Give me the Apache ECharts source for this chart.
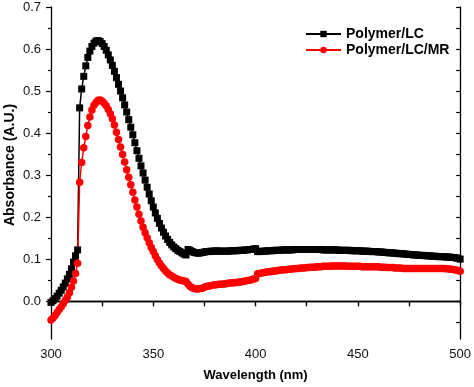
<!DOCTYPE html>
<html>
<head>
<meta charset="utf-8">
<script src="https://cdn.jsdelivr.net/npm/echarts@6/dist/echarts.min.js"></script>
<style>html,body{margin:0;padding:0;background:#fff;}#c{width:474px;height:387px;}</style>
</head>
<body>
<div id="c"></div>
<script>
const wavelength = [
300,301,302,303,304,305,306,307,308,309,310,311,312,313,314,315,316,317,318,319,
320,321,322,323,324,325,326,327,328,329,330,331,332,333,334,335,336,337,338,339,
340,341,342,343,344,345,346,347,348,349,350,351,352,353,354,355,356,357,358,359,
360,361,362,363,364,365,366,367,368,369,370,371,372,373,374,375,376,377,378,379,
380,381,382,383,384,385,386,387,388,389,390,391,392,393,394,395,396,397,398,399,
400,401,402,403,404,405,406,407,408,409,410,411,412,413,414,415,416,417,418,419,
420,421,422,423,424,425,426,427,428,429,430,431,432,433,434,435,436,437,438,439,
440,441,442,443,444,445,446,447,448,449,450,451,452,453,454,455,456,457,458,459,
460,461,462,463,464,465,466,467,468,469,470,471,472,473,474,475,476,477,478,479,
480,481,482,483,484,485,486,487,488,489,490,491,492,493,494,495,496,497,498,499,
500];

const polymerLC = [
-0.003,0.001,0.006,0.012,0.019,0.026,0.034,0.043,0.053,0.064,
0.077,0.093,0.108,0.122,0.46,0.505,0.535,0.56,0.58,0.595,
0.606,0.614,0.619,0.62,0.618,0.613,0.606,0.597,0.586,0.574,
0.561,0.547,0.532,0.516,0.5,0.484,0.467,0.45,0.432,0.414,
0.396,0.377,0.358,0.34,0.322,0.305,0.288,0.271,0.255,0.239,
0.224,0.21,0.197,0.185,0.174,0.164,0.155,0.147,0.14,0.134,
0.129,0.125,0.121,0.118,0.115,0.112,0.11,0.123,0.121,0.118,
0.116,0.115,0.114,0.115,0.116,0.117,0.118,0.118,0.119,0.119,
0.119,0.12,0.119,0.119,0.119,0.119,0.119,0.119,0.12,0.12,
0.12,0.12,0.121,0.121,0.121,0.122,0.122,0.123,0.123,0.124,
0.125,0.118,0.118,0.119,0.119,0.119,0.12,0.12,0.12,0.121,
0.121,0.121,0.121,0.122,0.122,0.122,0.122,0.122,0.122,0.123,
0.123,0.123,0.123,0.123,0.123,0.123,0.123,0.123,0.123,0.123,
0.123,0.123,0.123,0.122,0.122,0.122,0.122,0.122,0.122,0.122,
0.122,0.121,0.121,0.121,0.121,0.121,0.121,0.12,0.12,0.12,
0.12,0.12,0.119,0.119,0.119,0.119,0.118,0.118,0.118,0.118,
0.117,0.117,0.117,0.116,0.116,0.115,0.115,0.115,0.114,0.114,
0.113,0.113,0.113,0.112,0.112,0.111,0.111,0.11,0.11,0.11,
0.109,0.109,0.109,0.108,0.108,0.108,0.107,0.107,0.107,0.106,
0.106,0.106,0.106,0.105,0.105,0.105,0.104,0.104,0.103,0.102,
0.1];

const polymerLCMR = [
-0.045,-0.04,-0.034,-0.027,-0.02,-0.013,-0.006,0.002,0.01,0.02,
0.033,0.048,0.066,0.09,0.283,0.33,0.365,0.392,0.418,0.438,
0.455,0.466,0.473,0.478,0.479,0.476,0.471,0.465,0.456,0.446,
0.434,0.419,0.402,0.385,0.367,0.349,0.331,0.313,0.295,0.277,
0.259,0.241,0.224,0.207,0.191,0.176,0.163,0.151,0.139,0.128,
0.118,0.108,0.099,0.091,0.084,0.078,0.072,0.067,0.063,0.06,
0.057,0.054,0.052,0.05,0.049,0.048,0.047,0.04,0.035,0.032,
0.03,0.029,0.029,0.03,0.031,0.033,0.035,0.036,0.037,0.038,
0.039,0.039,0.04,0.04,0.041,0.041,0.042,0.043,0.043,0.044,
0.044,0.045,0.045,0.046,0.047,0.048,0.049,0.05,0.051,0.053,
0.054,0.065,0.066,0.067,0.068,0.069,0.07,0.07,0.071,0.072,
0.072,0.073,0.074,0.074,0.075,0.075,0.076,0.076,0.077,0.077,
0.078,0.078,0.079,0.079,0.079,0.08,0.08,0.081,0.081,0.081,
0.082,0.082,0.082,0.083,0.083,0.083,0.083,0.084,0.084,0.084,
0.084,0.084,0.084,0.084,0.084,0.083,0.083,0.083,0.083,0.083,
0.083,0.083,0.082,0.082,0.082,0.082,0.082,0.082,0.082,0.082,
0.082,0.081,0.081,0.081,0.08,0.08,0.08,0.08,0.079,0.079,
0.079,0.079,0.078,0.078,0.078,0.078,0.078,0.078,0.078,0.078,
0.078,0.078,0.078,0.078,0.078,0.078,0.078,0.078,0.078,0.078,
0.078,0.078,0.078,0.077,0.077,0.076,0.076,0.075,0.074,0.073,
0.071];

const seriesNames = ['Polymer/LC', 'Polymer/LC/MR'];
const yMajorTicks = [0, 0.1, 0.2, 0.3, 0.4, 0.5, 0.6, 0.7];
const yMinorTicks = [-0.05, 0.05, 0.15, 0.25, 0.35, 0.45, 0.55, 0.65];
const yAllTicks = [-0.05, 0, 0.05, 0.1, 0.15, 0.2, 0.25, 0.3, 0.35, 0.4, 0.45, 0.5, 0.55, 0.6, 0.65, 0.7];

const FONT = 'Liberation Sans, Arial, sans-serif';
const axisLine = { show: true, lineStyle: { color: '#000', width: 1.3 } };

const chart = echarts.init(document.getElementById('c'), null, { renderer: 'canvas' });
chart.setOption({
  animation: false,
  backgroundColor: '#fff',
  grid: { left: 51, right: 12, top: 7, bottom: 46 },
  legend: {
    orient: 'vertical',
    left: 300, top: 22,
    itemWidth: 35, itemHeight: 8, itemGap: 2,
    textStyle: { fontFamily: FONT, fontWeight: 'bold', fontSize: 14, color: '#000' },
    data: seriesNames
  },
  xAxis: [{
    type: 'value', min: 300, max: 500, interval: 25, position: 'bottom',
    axisLine: axisLine,
    axisTick: { show: true, inside: false, length: 5, lineStyle: { color: '#000', width: 1.2 } },
    axisLabel: { fontFamily: FONT, fontSize: 13, color: '#111', margin: 9,
      formatter: v => (v % 50 === 0 ? String(v) : '') },
    splitLine: { show: false },
    name: 'Wavelength (nm)', nameLocation: 'middle', nameGap: 30,
    nameTextStyle: { fontFamily: FONT, fontWeight: 'bold', fontSize: 13, color: '#000' }
  }, {
    type: 'value', min: 300, max: 500, interval: 25, position: 'top',
    axisLine: axisLine,
    axisTick: { show: true, inside: true, length: 5, lineStyle: { color: '#000', width: 1.2 } },
    axisLabel: { show: false }, splitLine: { show: false }
  }],
  yAxis: [{
    type: 'value', min: -0.09, max: 0.7, position: 'left',
    axisLine: axisLine,
    axisTick: { show: true, inside: false, length: 5, customValues: yMajorTicks, lineStyle: { color: '#000', width: 1.2 } },
    axisLabel: { fontFamily: FONT, fontSize: 13, color: '#111', margin: 10, customValues: yMajorTicks,
      formatter: v => v.toFixed(1) },
    splitLine: { show: false }
  }, {
    type: 'value', min: -0.09, max: 0.7, position: 'right',
    axisLine: axisLine,
    axisTick: { show: true, inside: true, length: 4, customValues: yAllTicks, lineStyle: { color: '#000', width: 1.2 } },
    axisLabel: { show: false }, splitLine: { show: false }
  }, {
    type: 'value', min: -0.09, max: 0.7, position: 'left', offset: 0,
    axisLine: { show: false },
    axisTick: { show: true, inside: false, length: 3, customValues: yMinorTicks, lineStyle: { color: '#000', width: 1.2 } },
    axisLabel: { show: false }, splitLine: { show: false }
  }],
  graphic: [{
    type: 'text', x: 10, y: 165, rotation: Math.PI / 2,
    style: { text: 'Absorbance (A.U.)', font: 'bold 14px ' + FONT, fill: '#000', align: 'center', verticalAlign: 'middle' }
  }],
  series: [{
    name: seriesNames[0], type: 'line', xAxisIndex: 0, yAxisIndex: 0,
    data: wavelength.map((w, i) => [w, polymerLC[i]]),
    symbol: 'rect', symbolSize: 7, showSymbol: true, showAllSymbol: true,
    lineStyle: { color: '#000', width: 1.5 }, itemStyle: { color: '#000' }
  }, {
    name: seriesNames[1], type: 'line', xAxisIndex: 0, yAxisIndex: 0,
    data: wavelength.map((w, i) => [w, polymerLCMR[i]]),
    symbol: 'circle', symbolSize: 7.5, showSymbol: true, showAllSymbol: true,
    lineStyle: { color: '#ff0000', width: 1.5 }, itemStyle: { color: '#ff0000' }
  }]
});
</script>
</body>
</html>
